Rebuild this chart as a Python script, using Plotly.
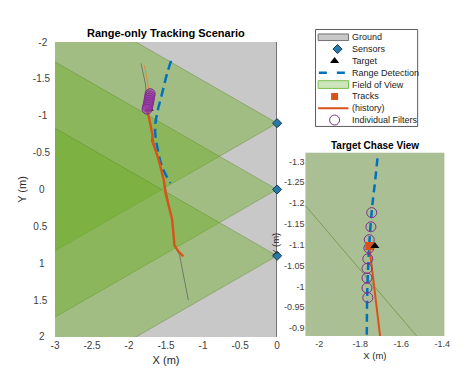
import plotly.graph_objects as go

# ---------------- data ----------------
sensor_x = [0.0, 0.0, 0.0]
sensor_y = [-0.9, 0.0, 0.9]

ground_x = [-10, 0, 0, -10, -10]
ground_y = [-10, -10, 10, 10, -10]

fov1_x = [0, -4, -4, 0]
fov1_y = [-0.9, -3.21, 1.41, -0.9]
fov2_x = [0, -4, -4, 0]
fov2_y = [0.0, -2.31, 2.31, 0.0]
fov3_x = [0, -4, -4, 0]
fov3_y = [0.9, -1.41, 3.21, 0.9]

target_x = [-1.729]
target_y = [-1.097]
track_x = [-1.756]
track_y = [-1.097]

track_hist_x = [-1.756, -1.737, -1.715, -1.70, -1.683, -1.688, -1.665, -1.639, -1.596,
                -1.530, -1.507, -1.464, -1.419, -1.398, -1.388, -1.332, -1.266]
track_hist_y = [-1.097, -1.0, -0.90, -0.82, -0.742, -0.66, -0.58, -0.521, -0.389,
                -0.125, 0.05, 0.227, 0.403, 0.623, 0.755, 0.842, 0.908]

truth_x = [-1.838, -1.781, -1.737, -1.70, -1.639, -1.530, -1.419, -1.388, -1.318, -1.199]
truth_y = [-1.710, -1.446, -1.0, -0.82, -0.521, -0.125, 0.403, 0.755, 0.887, 1.502]

lead_x = [-1.728, -1.76, -1.794]
lead_y = [-1.336, -1.52, -1.687]

range_main_x = [-1.432, -1.485, -1.551, -1.617, -1.649, -1.617, -1.551, -1.441]
range_main_y = [-1.745, -1.578, -1.314, -1.050, -0.829, -0.565, -0.301, -0.086]

range_chase_x = [-1.716, -1.728, -1.740, -1.749, -1.756, -1.761, -1.765, -1.767, -1.768]
range_chase_y = [-1.307, -1.25, -1.20, -1.15, -1.10, -1.05, -1.00, -0.95, -0.884]

filters_main_x = [-1.715, -1.72, -1.725, -1.73, -1.735, -1.742, -1.75, -1.757]
filters_main_y = [-1.30, -1.27, -1.24, -1.21, -1.18, -1.15, -1.12, -1.09]

filters_chase_x = [-1.744, -1.748, -1.756, -1.758, -1.763, -1.767, -1.767, -1.767, -1.763]
filters_chase_y = [-1.177, -1.143, -1.112, -1.092, -1.066, -1.043, -1.020, -0.996, -0.973]

main_xticks = [-3, -2.5, -2, -1.5, -1, -0.5, 0]
main_xticktext = ["-3", "-2.5", "-2", "-1.5", "-1", "-0.5", "0"]
main_yticks = [-2, -1.5, -1, -0.5, 0, 0.5, 1, 1.5, 2]
main_yticktext = ["-2", "-1.5", "-1", "-0.5", "0", "0.5", "1", "1.5", "2"]
chase_xticks = [-2, -1.8, -1.6, -1.4]
chase_xticktext = ["-2", "-1.8", "-1.6", "-1.4"]
chase_yticks = [-1.3, -1.25, -1.2, -1.15, -1.1, -1.05, -1.0, -0.95, -0.9]
chase_yticktext = ["-1.3", "-1.25", "-1.2", "-1.15", "-1.1", "-1.05", "-1", "-0.95", "-0.9"]

legend_labels = ["Ground", "Sensors", "Target", "Range Detection", "Field of View",
                 "Tracks", "(history)", "Individual Filters"]

# ---------------- styles / layout geometry ----------------
WIN_W, WIN_H = 474, 379
OFF = 8                       # default page body margin
FW, FH = WIN_W - 2 * OFF, WIN_H - 2 * OFF
FONT = "Liberation Sans, Arial, sans-serif"
GROUND = "#c8c8c8"
FOV_MAIN = "rgba(105,172,30,0.40)"
FOV_CHASE = "rgba(105,172,30,0.30)"
FOV_EDGE = "rgba(90,140,40,0.55)"
BLUE = "#0072BD"
ORANGE = "#D95319"
PURPLE = "#7E2F8E"
SENSOR_FILL = "#2878a8"
SENSOR_EDGE = "#143c55"
TICK_COL = "#404040"


def pxx(p):
    return (p - OFF) / FW


def pxy(p):
    return 1 - (p - OFF) / FH


def center_pad(lbl, widest=17.2, size=10):
    # approximate Arial advance widths, used only to centre the labels
    w = {"-": 0.333, ".": 0.278}
    width = sum(w.get(c, 0.556) for c in lbl) * size
    n = int(round((widest - width) / 2 / (0.278 * size)))
    return lbl + "\u00a0" * max(n, 0)


fig = go.Figure()


def add(tr, ax):
    xa, ya = ax
    tr.update(xaxis=xa, yaxis=ya, showlegend=False, hoverinfo="skip")
    fig.add_trace(tr)


MAIN = ("x", "y")
CHASE = ("x2", "y2")
LEG = ("x3", "y3")

# ---- main view ----
add(go.Scatter(x=ground_x, y=ground_y, fill="toself", fillcolor=GROUND, mode="lines",
               line=dict(color="#3a3a3a", width=1.3)), MAIN)
for fx, fy in [(fov1_x, fov1_y), (fov2_x, fov2_y), (fov3_x, fov3_y)]:
    add(go.Scatter(x=fx, y=fy, fill="toself", fillcolor=FOV_MAIN, mode="lines",
                   line=dict(color=FOV_EDGE, width=0.8)), MAIN)
add(go.Scatter(x=truth_x, y=truth_y, mode="lines", line=dict(color="#6a7060", width=0.9)), MAIN)
add(go.Scatter(x=lead_x, y=lead_y, mode="lines", line=dict(color="#e08a40", width=1)), MAIN)
add(go.Scatter(x=range_main_x, y=range_main_y, mode="lines", line_shape="spline",
               line=dict(color=BLUE, width=2.5, dash="9px,5px")), MAIN)
add(go.Scatter(x=track_hist_x, y=track_hist_y, mode="lines",
               line=dict(color=ORANGE, width=2.4)), MAIN)
add(go.Scatter(x=target_x, y=target_y, mode="markers",
               marker=dict(symbol="triangle-up", size=8, color="black")), MAIN)
add(go.Scatter(x=filters_main_x, y=filters_main_y, mode="markers",
               marker=dict(symbol="circle", size=10, color="rgba(160,60,170,0.55)",
                           line=dict(color=PURPLE, width=1))), MAIN)
add(go.Scatter(x=sensor_x, y=sensor_y, mode="markers", cliponaxis=False,
               marker=dict(symbol="diamond", size=7, color=SENSOR_FILL,
                           line=dict(color=SENSOR_EDGE, width=1))), MAIN)

# ---- chase view ----
add(go.Scatter(x=ground_x, y=ground_y, fill="toself", fillcolor=GROUND, mode="lines",
               line=dict(color="#3a3a3a", width=1.3)), CHASE)
add(go.Scatter(x=fov1_x, y=fov1_y, fill="toself", fillcolor=FOV_CHASE, mode="lines",
               line=dict(color=FOV_EDGE, width=0.8)), CHASE)
add(go.Scatter(x=fov2_x, y=fov2_y, mode="lines",
               line=dict(color="rgba(110,150,70,0.9)", width=0.9)), CHASE)
add(go.Scatter(x=range_chase_x, y=range_chase_y, mode="lines", line_shape="spline",
               line=dict(color=BLUE, width=2.5, dash="8px,5px")), CHASE)
add(go.Scatter(x=track_hist_x, y=track_hist_y, mode="lines",
               line=dict(color=ORANGE, width=2)), CHASE)
add(go.Scatter(x=filters_chase_x, y=filters_chase_y, mode="markers",
               marker=dict(symbol="circle-open", size=10, color=PURPLE,
                           line=dict(color=PURPLE, width=1))), CHASE)
add(go.Scatter(x=track_x, y=track_y, mode="markers",
               marker=dict(symbol="square", size=8, color=ORANGE)), CHASE)
add(go.Scatter(x=target_x, y=target_y, mode="markers",
               marker=dict(symbol="triangle-up", size=8, color="black")), CHASE)

# ---- legend (drawn in its own pixel-unit axes) ----
LX0, LX1, LY0, LY1 = 318.3, 422.7, 25, 125
row_y = [8 + 12.2 * i for i in range(len(legend_labels))]
sym_x = 19.5
fig.add_shape(type="rect", xref="x3 domain", yref="y3 domain", x0=0, x1=1, y0=0, y1=1,
              line=dict(color="#333333", width=0.8), fillcolor="white", layer="below")
add(go.Scatter(x=[2.7, 33.7, 33.7, 2.7, 2.7],
               y=[row_y[0] - 3.4, row_y[0] - 3.4, row_y[0] + 3.4, row_y[0] + 3.4, row_y[0] - 3.4],
               fill="toself", fillcolor=GROUND, mode="lines",
               line=dict(color="#555555", width=0.8)), LEG)
add(go.Scatter(x=[sym_x + 3], y=[row_y[1]], mode="markers",
               marker=dict(symbol="diamond", size=7, color=SENSOR_FILL,
                           line=dict(color=SENSOR_EDGE, width=1))), LEG)
add(go.Scatter(x=[sym_x], y=[row_y[2]], mode="markers",
               marker=dict(symbol="triangle-up", size=8, color="black")), LEG)
add(go.Scatter(x=[3.4, 30.2], y=[row_y[3], row_y[3]], mode="lines",
               line=dict(color=BLUE, width=2.5, dash="8px,10px")), LEG)
add(go.Scatter(x=[2.7, 33.7, 33.7, 2.7, 2.7],
               y=[row_y[4] - 4, row_y[4] - 4, row_y[4] + 4, row_y[4] + 4, row_y[4] - 4],
               fill="toself", fillcolor="#cde6bd", mode="lines",
               line=dict(color="#7fbf55", width=1)), LEG)
add(go.Scatter(x=[sym_x], y=[row_y[5]], mode="markers",
               marker=dict(symbol="square", size=7, color=ORANGE)), LEG)
add(go.Scatter(x=[2.7, 33.7], y=[row_y[6], row_y[6]], mode="lines",
               line=dict(color=ORANGE, width=2)), LEG)
add(go.Scatter(x=[sym_x], y=[row_y[7]], mode="markers",
               marker=dict(symbol="circle-open", size=10, color=PURPLE,
                           line=dict(color=PURPLE, width=1))), LEG)

annotations = []
for lab, yy in zip(legend_labels, row_y):
    annotations.append(dict(text=lab, x=35.5, y=yy, xref="x3", yref="y3", xanchor="left",
                            yanchor="middle", showarrow=False,
                            font=dict(family=FONT, size=9, color="#1a1a1a")))

# subplot geometry in window pixels
M_X0, M_X1, M_Y0, M_Y1 = 52, 279, 38, 342
C_X0, C_X1, C_Y0, C_Y1 = 308, 450, 152, 341
annotations.append(dict(text="Range-only Tracking Scenario", x=pxx((M_X0 + M_X1) / 2),
                        y=pxy(29), xref="paper", yref="paper", showarrow=False,
                        xanchor="center", yanchor="middle",
                        font=dict(family=FONT, size=11, color="black", weight="bold")))
annotations.append(dict(text="Target Chase View", x=pxx((C_X0 + C_X1) / 2),
                        y=pxy(144.5), xref="paper", yref="paper", showarrow=False,
                        xanchor="center", yanchor="middle",
                        font=dict(family=FONT, size=10, color="black", weight="bold")))

axcommon = dict(showgrid=False, zeroline=False, showline=False, ticks="", tickmode="array")

fig.update_layout(
    width=FW, height=FH,
    margin=dict(l=0, r=0, t=0, b=0),
    paper_bgcolor="white", plot_bgcolor="white",
    font=dict(family=FONT, color=TICK_COL),
    showlegend=False,
    annotations=annotations,
    xaxis=dict(domain=[pxx(M_X0), pxx(M_X1)], range=[-3, 0], anchor="y",
               tickvals=main_xticks, ticktext=main_xticktext, ticklabelstandoff=1,
               tickfont=dict(size=10, color=TICK_COL),
               title=dict(text="X (m)", font=dict(size=11, color="#262626"), standoff=6),
               **axcommon),
    yaxis=dict(domain=[pxy(M_Y1), pxy(M_Y0)], range=[2, -2], anchor="x",
               tickvals=main_yticks, ticktext=[center_pad(t) for t in main_yticktext],
               ticklabelstandoff=4,
               tickfont=dict(size=10, color=TICK_COL),
               title=dict(text="Y (m)", font=dict(size=11, color="#262626"), standoff=3),
               **axcommon),
    xaxis2=dict(domain=[pxx(C_X0), pxx(C_X1)], range=[-2.067, -1.39], anchor="y2",
                tickvals=chase_xticks, ticktext=chase_xticktext, ticklabelstandoff=1,
                tickfont=dict(size=9, color=TICK_COL),
                title=dict(text="X (m)", font=dict(size=9.5, color="#262626"), standoff=4),
                **axcommon),
    yaxis2=dict(domain=[pxy(C_Y1), pxy(C_Y0)], range=[-0.881, -1.321], anchor="x2",
                tickvals=chase_yticks, ticktext=chase_yticktext,
                tickfont=dict(size=9, color=TICK_COL),
                title=dict(text="Y (m)", font=dict(size=9.5, color="#262626"), standoff=2),
                **axcommon),
    xaxis3=dict(domain=[pxx(LX0), pxx(LX1)], range=[0, LX1 - LX0], anchor="y3", visible=False),
    yaxis3=dict(domain=[pxy(LY1), pxy(LY0)], range=[LY1 - LY0, 0], anchor="x3", visible=False),
)

fig.write_html("out.html")
